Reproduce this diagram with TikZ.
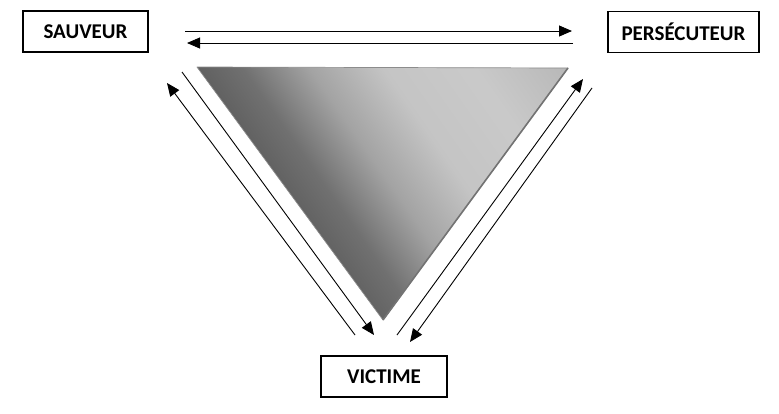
\documentclass[tikz,border=0pt]{standalone}
\usepackage{fontspec}
\setmainfont{Carlito}
\usetikzlibrary{arrows.meta}
\pgfdeclarehorizontalshading{trishade}{100bp}{color(0bp)=(black!62); color(25bp)=(black!62); color(31bp)=(black!56); color(40bp)=(black!36); color(50bp)=(black!23); color(62bp)=(black!21); color(75bp)=(black!28); color(100bp)=(black!28)}
\begin{document}
\begin{tikzpicture}[x=1pt,y=-1pt,
  rolebox/.style={draw=black,line width=1.2pt,minimum width=125pt,minimum height=41pt,inner sep=0pt,
    font=\fontsize{21}{24}\selectfont\bfseries,fill=white},
  conn/.style={line width=0.9pt,-{Triangle[length=13pt,width=11pt]}}]
\useasboundingbox (0,0) rectangle (779,413);
% triangle
\coordinate (ta) at (197,67);
\coordinate (tb) at (568,68);
\coordinate (tc) at (383,320);
\begin{scope}
  \clip (ta) -- (tb) -- (tc) -- cycle;
  \begin{scope}[transform canvas={shift={(197,67)},rotate=35}]
    \shade[shading=trishade] (0,-400) rectangle (304,400);
  \end{scope}
\end{scope}
\draw[black!45,line width=0.7pt,line join=round] (ta) -- (tb) -- (tc) -- cycle;
\draw[black!55,line width=1.6pt] (tb) -- (tc);
% boxes
\node[rolebox] (sauv) at (85.5,31.5) {SAUVEUR};
\node[rolebox,minimum width=151pt] (pers) at (683.5,32) {PERSÉCUTEUR};
\node[rolebox,minimum width=126pt] (vict) at (384,376.5) {VICTIME};
% connector endpoints
\coordinate (t1a) at (185,31); \coordinate (t1b) at (572,31);
\coordinate (t2a) at (573,43); \coordinate (t2b) at (187,43);
\coordinate (l1a) at (355,335); \coordinate (l1b) at (167,83);
\coordinate (l2a) at (182,72); \coordinate (l2b) at (374,335);
\coordinate (r1a) at (397,335); \coordinate (r1b) at (583,79);
\coordinate (r2a) at (592,88); \coordinate (r2b) at (410,342);
\draw[conn] (t1a) -- (t1b);
\draw[conn] (t2a) -- (t2b);
\draw[conn] (l1a) -- (l1b);
\draw[conn] (l2a) -- (l2b);
\draw[conn] (r1a) -- (r1b);
\draw[conn] (r2a) -- (r2b);
\end{tikzpicture}
\end{document}
